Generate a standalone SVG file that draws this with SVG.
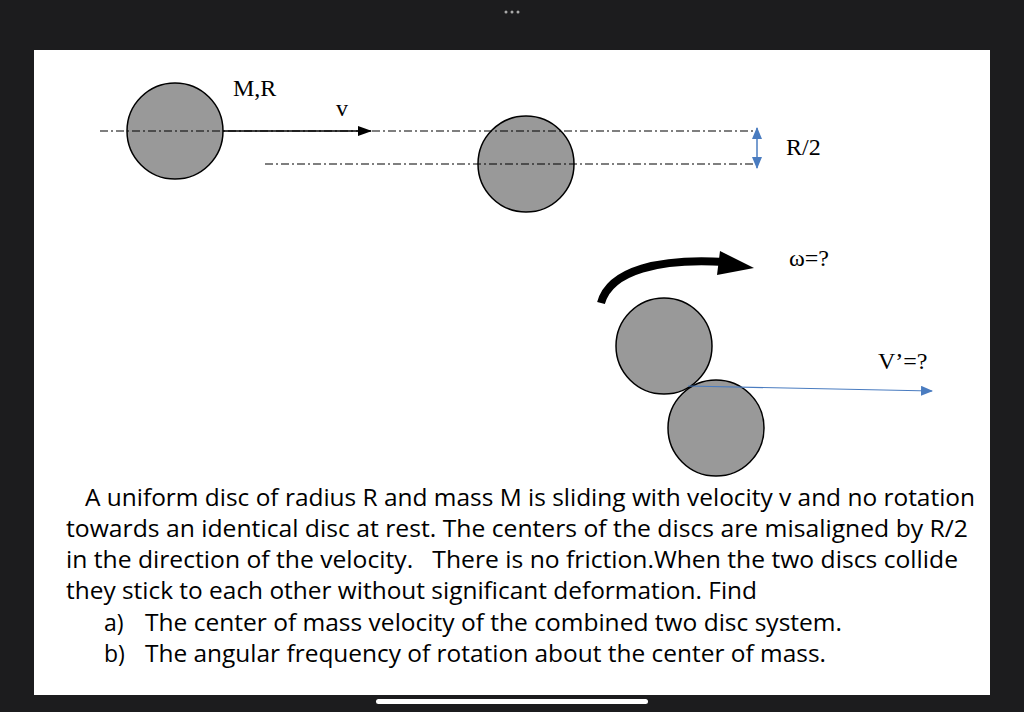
<svg xmlns="http://www.w3.org/2000/svg" width="1024" height="712" viewBox="0 0 1024 712">
<defs>
<style>
.disc{fill:#999;stroke:#000;stroke-width:1.5}
.dd{stroke:#000;stroke-width:1.2;stroke-dasharray:8 3 2 3;fill:none}
.tm{font-family:"Liberation Serif",serif;font-size:24px;fill:#000}
.tx{font-family:"Open Sans",sans-serif;font-size:23px;fill:#000}
</style>
<marker id="ab" markerWidth="14" markerHeight="10" refX="13" refY="5" orient="auto" markerUnits="userSpaceOnUse"><path d="M0,0L14,5L0,10z" fill="#000"/></marker>
<marker id="bl" markerWidth="12" markerHeight="10" refX="11" refY="5" orient="auto-start-reverse" markerUnits="userSpaceOnUse"><path d="M0,0L12,5L0,10z" fill="#4a7cc0"/></marker>
</defs>
<rect width="1024" height="712" fill="#1c1c1e"/>
<rect x="34" y="50" width="956" height="645" fill="#fff"/>
<g fill="#aaa"><circle cx="506" cy="12" r="1.5"/><circle cx="512" cy="12" r="1.5"/><circle cx="518" cy="12" r="1.5"/></g>
<rect x="376" y="699" width="272" height="5" rx="2.5" fill="#fff"/>
<g id="disc1"><circle class="disc" cx="175" cy="131" r="48"/></g>
<g id="disc2"><circle class="disc" cx="526" cy="164" r="48"/></g>
<g id="disc3"><circle class="disc" cx="664" cy="346" r="48"/></g>
<g id="disc4"><circle class="disc" cx="716" cy="428" r="48"/></g>
<g id="connectors">
<line class="dd" x1="100" y1="131" x2="757" y2="131"/>
<line class="dd" x1="265" y1="164" x2="757" y2="164"/>
<line x1="223" y1="131" x2="371" y2="131" stroke="#000" stroke-width="1.5" marker-end="url(#ab)"/>
<line x1="757" y1="128" x2="757" y2="168" stroke="#4a7cc0" stroke-width="1.5" marker-start="url(#bl)" marker-end="url(#bl)"/>
<line x1="688" y1="386" x2="932" y2="391" stroke="#4a7cc0" stroke-width="1.2" marker-end="url(#bl)"/>
<path d="M601,303 C610,270 660,258 725,262" stroke="#000" stroke-width="8" fill="none"/>
<path d="M720,251 L754,268 L717,275 z" fill="#000"/>
</g>
<text class="tm" x="233" y="96">M,R</text>
<text class="tm" x="336" y="116" font-size="19">v</text>
<text class="tm" x="786" y="155">R/2</text>
<text class="tm" x="789" y="266">ω=?</text>
<text class="tm" x="878" y="369">V’=?</text>
<text class="tx" x="85" y="506" textLength="890" lengthAdjust="spacingAndGlyphs">A uniform disc of radius R and mass M is sliding with velocity v and no rotation</text>
<text class="tx" x="66" y="537" textLength="902" lengthAdjust="spacingAndGlyphs">towards an identical disc at rest. The centers of the discs are misaligned by R/2</text>
<text class="tx" x="66" y="568" textLength="892" lengthAdjust="spacingAndGlyphs" xml:space="preserve">in the direction of the velocity.   There is no friction.When the two discs collide</text>
<text class="tx" x="66" y="599" textLength="691" lengthAdjust="spacingAndGlyphs">they stick to each other without significant deformation. Find</text>
<text class="tx" x="104" y="631">a)</text>
<text class="tx" x="145" y="631" textLength="697" lengthAdjust="spacingAndGlyphs">The center of mass velocity of the combined two disc system.</text>
<text class="tx" x="104" y="662">b)</text>
<text class="tx" x="145" y="662" textLength="681" lengthAdjust="spacingAndGlyphs">The angular frequency of rotation about the center of mass.</text>
</svg>
